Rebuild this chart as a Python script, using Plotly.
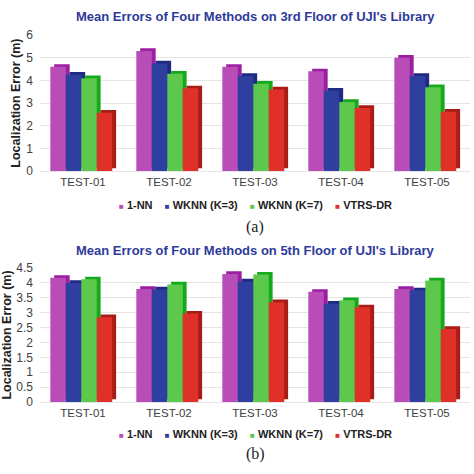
import plotly.graph_objects as go
from plotly.subplots import make_subplots

categories = ["TEST-01", "TEST-02", "TEST-03", "TEST-04", "TEST-05"]
methods = ["1-NN", "WKNN (K=3)", "WKNN (K=7)", "VTRS-DR"]

floor3_nn1 = [4.6, 5.3, 4.6, 4.4, 5.0]
floor3_wknn3 = [4.25, 4.75, 4.2, 3.55, 4.2]
floor3_wknn7 = [4.1, 4.3, 3.85, 3.05, 3.7]
floor3_vtrs = [2.57, 3.65, 3.6, 2.78, 2.62]

floor5_nn1 = [4.17, 3.8, 4.3, 3.7, 3.8]
floor5_wknn3 = [4.0, 3.78, 4.05, 3.3, 3.75]
floor5_wknn7 = [4.12, 3.95, 4.28, 3.42, 4.08]
floor5_vtrs = [2.85, 2.97, 3.35, 3.18, 2.45]

title_a = "Mean Errors of Four Methods on 3rd Floor of UJI's Library"
title_b = "Mean Errors of Four Methods on 5th Floor of UJI's Library"
ytitle = "Localization Error (m)"

colors = ["#b84db8", "#2f3f9f", "#5cc94c", "#e0302a"]
side_colors = ["#9c1fa3", "#1f2a82", "#14aa1c", "#a81c16"]

font_sans = "Liberation Sans, Arial, sans-serif"

fig = make_subplots(rows=2, cols=1)

series_a = [floor3_nn1, floor3_wknn3, floor3_wknn7, floor3_vtrs]
series_b = [floor5_nn1, floor5_wknn3, floor5_wknn7, floor5_vtrs]

w = 0.18
start = -0.38
depth_x = 0.045
for row, series, depth_y in [(1, series_a, 0.12), (2, series_b, 0.09)]:
    for i, (name, vals) in enumerate(zip(methods, series)):
        off = start + i * w
        # 3-D depth shading: same values, shifted back and up
        fig.add_trace(go.Bar(x=categories, y=vals, base=depth_y, offset=off + depth_x, width=w,
                             marker=dict(color=side_colors[i], line=dict(width=0)),
                             showlegend=False, hoverinfo="skip"), row=row, col=1)
    for i, (name, vals) in enumerate(zip(methods, series)):
        off = start + i * w
        fig.add_trace(go.Bar(x=categories, y=vals, offset=off, width=w, name=name,
                             marker=dict(color=colors[i], line=dict(width=0)),
                             showlegend=False), row=row, col=1)

fig.update_layout(
    width=474, height=474,
    margin=dict(l=40, r=4, t=0, b=0),
    barmode="overlay",
    paper_bgcolor="white", plot_bgcolor="white",
    font=dict(family=font_sans, size=11, color="#404040"),
    showlegend=False,
)

fig.update_yaxes(domain=[0.6435, 0.9388], range=[0, 6], dtick=1, row=1, col=1)
fig.update_yaxes(domain=[0.1414, 0.4325], range=[0, 4.5], dtick=0.5, row=2, col=1)
fig.update_yaxes(showgrid=True, gridcolor="#e4e4e4", zeroline=False, showline=False,
                 ticks="", ticklabelstandoff=6, tickfont=dict(size=12, color="#404040"),
                 title=dict(text=ytitle, font=dict(size=12.5, color="#222", weight="bold"), standoff=2))
fig.update_xaxes(showgrid=False, showline=True, linecolor="#e6e6e6", ticks="",
                 tickfont=dict(size=11.5, color="#404040"))

legend_text = "&nbsp;&nbsp;&nbsp;&nbsp;".join(
    f"<span style='color:{c};font-size:8px'>■</span> {m}" for c, m in zip(colors, methods))

ann = [
    dict(text=title_a, x=0.5, y=0.979, font=dict(size=13, color="#2e3a9a", weight="bold")),
    dict(text=legend_text, x=0.5, y=0.5696, font=dict(size=11, color="#222", weight="bold")),
    dict(text="(a)", x=0.5, y=0.521, font=dict(size=16, color="#222", family="Liberation Serif, Times New Roman, serif")),
    dict(text=title_b, x=0.5, y=0.4705, font=dict(size=13, color="#2e3a9a", weight="bold")),
    dict(text=legend_text, x=0.5, y=0.0717, font=dict(size=11, color="#222", weight="bold")),
    dict(text="(b)", x=0.5, y=0.0274, font=dict(size=16, color="#222", family="Liberation Serif, Times New Roman, serif")),
]
for a in ann:
    fig.add_annotation(xref="paper", yref="paper", showarrow=False, xanchor="center", yanchor="middle", **a)

fig.write_html("out.html")
